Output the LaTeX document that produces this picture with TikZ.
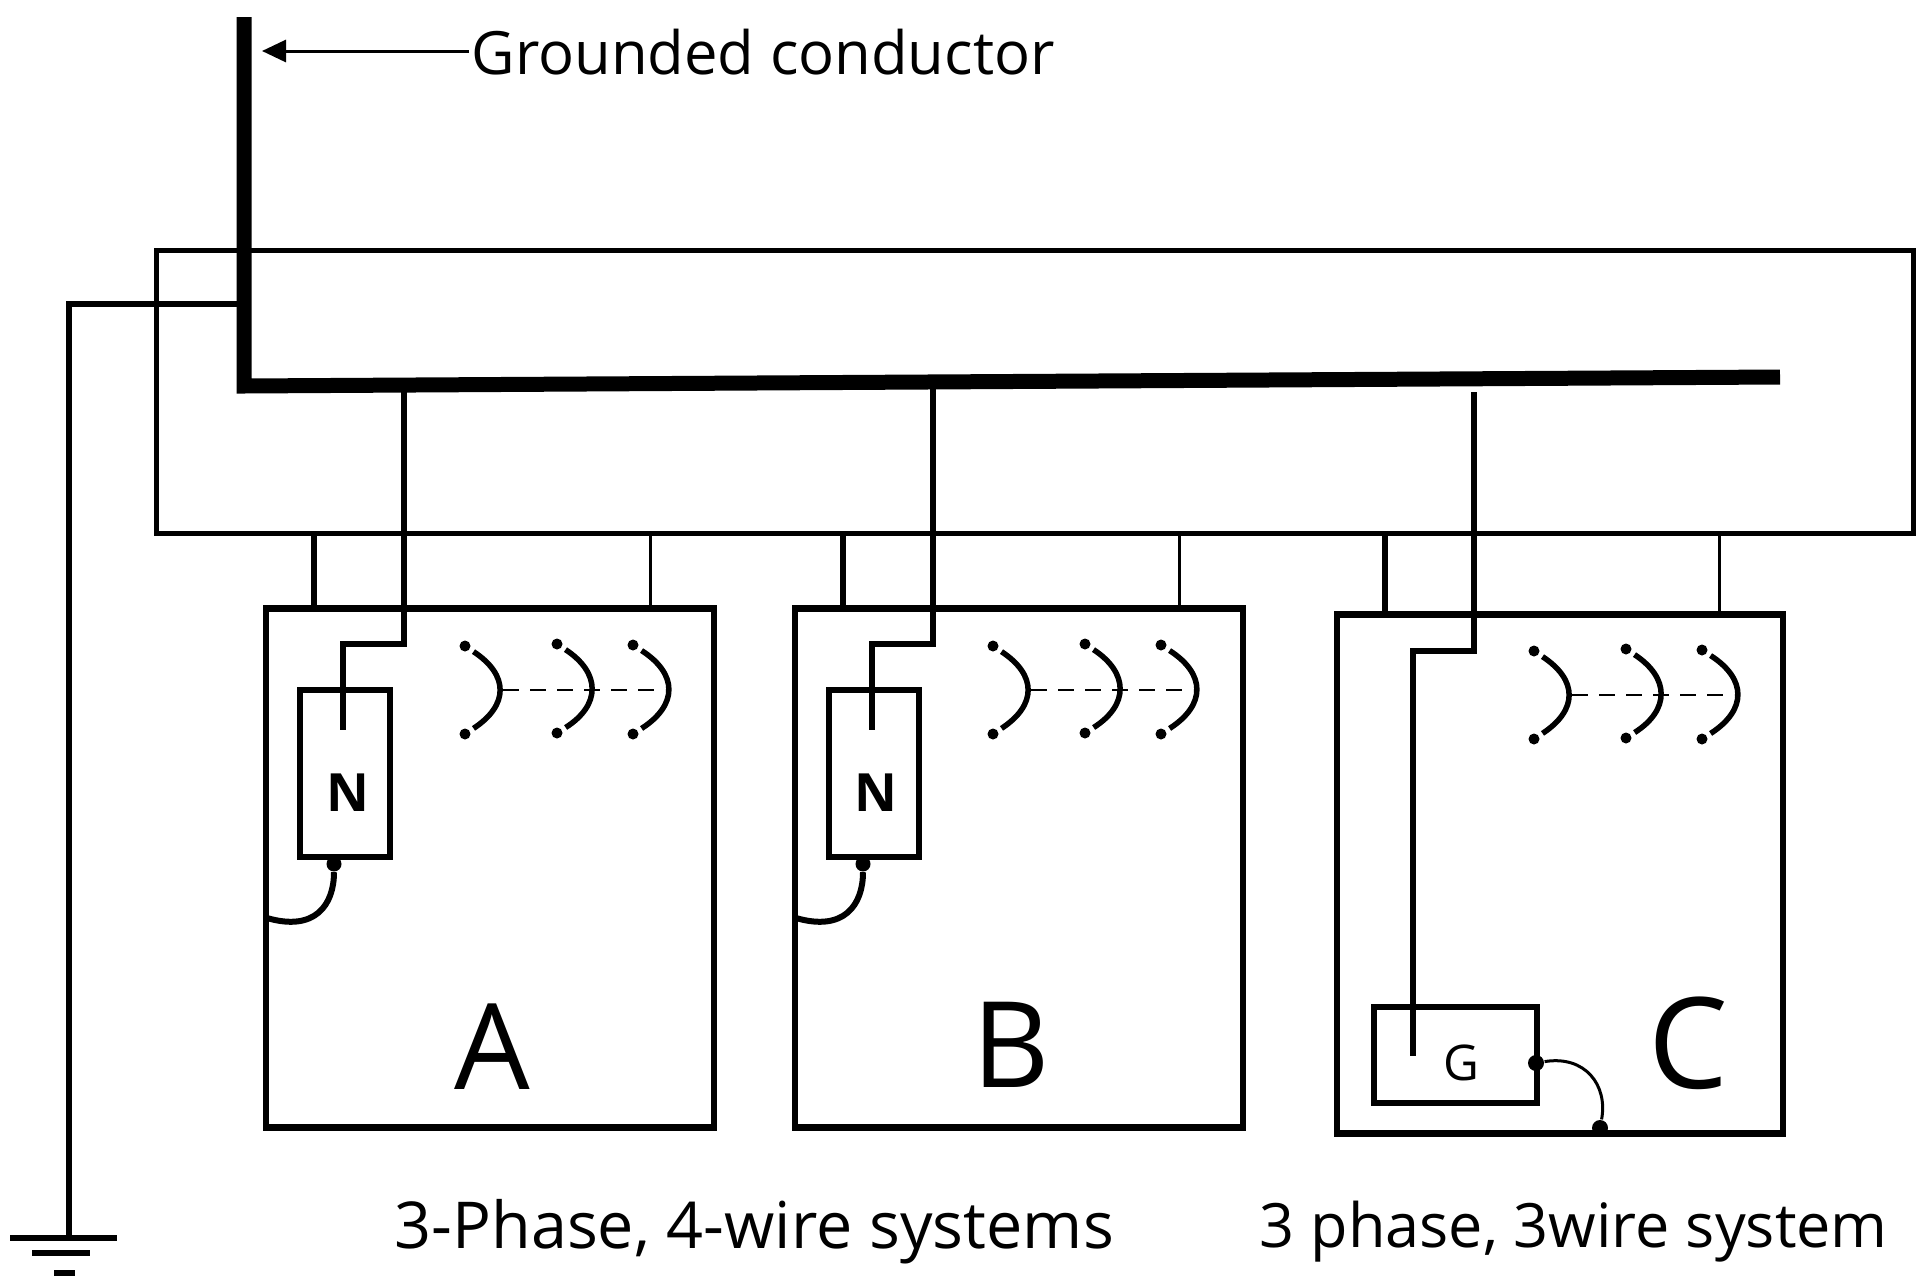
\documentclass[tikz,border=0pt]{standalone}
\usepackage{fontspec}
\setmainfont{Open Sans}
\usetikzlibrary{arrows.meta}

\begin{document}
\begin{tikzpicture}[
		x = 0.1mm,
		y = -0.1mm,
		panel/.style = {
			shape = rectangle,
			draw,
			line width = 0.55mm,
			inner sep = 0,
		},
		dot/.style = {
			shape = circle,
			fill,
			inner sep = 0,
			minimum size = 1.1mm,
		},
		joint/.style = {
			shape = circle,
			fill,
			inner sep = 0,
			minimum size = 1.5mm,
		},
		wire/.style = {line width = 0.6mm},
		thinwire/.style = {line width = 0.3mm},
		blade/.style = {line width = 0.55mm, shorten < = 0.4mm, shorten > = 0.4mm},
		gang/.style = {line width = 0.28mm, dash pattern = on 1.6mm off 1.1mm},
		bigletter/.style = {font = \fontsize{34}{34}\selectfont, inner sep = 0},
		tag/.style = {font = \fontsize{14}{16}\selectfont, inner sep = 0},
	]
	\useasboundingbox (0, 0) rectangle (1920, 1283);

	% enclosures
	\draw (1035, 392) node (bus) [panel, minimum width = 175.7mm, minimum height = 28.3mm] {};
	\draw (490, 868) node (boxA) [panel, line width = 0.65mm, minimum width = 44.8mm, minimum height = 51.9mm] {};
	\draw (1019, 868) node (boxB) [panel, line width = 0.65mm, minimum width = 44.8mm, minimum height = 51.9mm] {};
	\draw (1560, 874) node (boxC) [panel, line width = 0.65mm, minimum width = 44.6mm, minimum height = 51.9mm] {};
	\draw (345, 773) node (neutA) [panel, line width = 0.6mm, minimum width = 9mm, minimum height = 16.7mm] {};
	\draw (874, 773) node (neutB) [panel, line width = 0.6mm, minimum width = 9mm, minimum height = 16.7mm] {};
	\draw (1455, 1055) node (gndbox) [panel, line width = 0.6mm, minimum width = 16.3mm, minimum height = 9.6mm] {};

	% labels
	\draw (492, 1047) node (lblA) [bigletter] {A};
	\draw (1011, 1045) node (lblB) [bigletter] {B};
	\draw (1688, 1043) node (lblC) [bigletter, font = \fontsize{36}{36}\selectfont] {C};
	\draw (348, 793) node (lblNA) [tag, font = \fontsize{15}{16}\bfseries] {N};
	\draw (876, 793) node (lblNB) [tag, font = \fontsize{15}{16}\bfseries] {N};
	\draw (1461, 1063) node (lblG) [tag] {G};
	\draw (471, 52) node (lblcond) [anchor = west, inner sep = 0, font = \fontsize{17}{20}\selectfont] {Grounded conductor};
	\draw (394, 1232) node (lblfour) [anchor = west, inner sep = 0, font = \fontsize{18.4}{20}\selectfont] {3-Phase, 4-wire systems};
	\draw (1259, 1232) node (lblthree) [anchor = west, inner sep = 0, font = \fontsize{17.4}{20}\selectfont] {3 phase, 3wire system};

	% grounded conductor
	\draw (244, 17) coordinate (c1);
	\draw (244, 386) coordinate (c2);
	\draw (1780, 377) coordinate (c3);
	\draw [line width = 1.5mm, miter limit = 10] (c1) -- (c2) -- (c3);
	\draw (469, 51) coordinate (p1);
	\draw (262, 51) coordinate (p2);
	\draw [thinwire, -{Stealth[length = 2.4mm, width = 2.2mm, inset = 0]}] (p1) -- (p2);

	% earth
	\draw (238, 304) coordinate (e1);
	\draw (69, 304) coordinate (e2);
	\draw (69, 1238) coordinate (e3);
	\draw (10, 1238) coordinate (e4);
	\draw (117, 1238) coordinate (e5);
	\draw (32, 1253) coordinate (e6);
	\draw (90, 1253) coordinate (e7);
	\draw (54, 1273) coordinate (e8);
	\draw (75, 1273) coordinate (e9);
	\draw [wire] (e1) -- (e2) -- (e3);
	\draw [line width = 0.65mm] (e4) -- (e5);
	\draw [line width = 0.65mm] (e6) -- (e7);
	\draw [line width = 0.65mm] (e8) -- (e9);

	% feeds to the boxes
	\draw (404, 386) coordinate (wa1);
	\draw (404, 644) coordinate (wa2);
	\draw (343, 644) coordinate (wa3);
	\draw (343, 730) coordinate (wa4);
	\draw [wire] (wa1) -- (wa2) -- (wa3) -- (wa4);
	\draw (933, 386) coordinate (wb1);
	\draw (933, 644) coordinate (wb2);
	\draw (872, 644) coordinate (wb3);
	\draw (872, 730) coordinate (wb4);
	\draw [wire] (wb1) -- (wb2) -- (wb3) -- (wb4);
	\draw (1474, 392) coordinate (wc1);
	\draw (1474, 651) coordinate (wc2);
	\draw (1413, 651) coordinate (wc3);
	\draw (1413, 1056) coordinate (wc4);
	\draw [wire] (wc1) -- (wc2) -- (wc3) -- (wc4);

	\draw [wire] (bus.south -| 314, 0) -- (boxA.north -| 314, 0);
	\draw [thinwire] (bus.south -| 650, 0) -- (boxA.north -| 650, 0);
	\draw [wire] (bus.south -| 843, 0) -- (boxB.north -| 843, 0);
	\draw [thinwire] (bus.south -| 1179, 0) -- (boxB.north -| 1179, 0);
	\draw [wire] (bus.south -| 1385, 0) -- (boxC.north -| 1385, 0);
	\draw [thinwire] (bus.south -| 1719, 0) -- (boxC.north -| 1719, 0);

	% bonding jumpers
	\draw (334, 864) node (ja) [joint] {};
	\draw (267, 918) coordinate (ja2);
	\draw [wire] (ja) .. controls (334, 905) and (315, 932) .. (ja2);
	\draw (863, 864) node (jb) [joint] {};
	\draw (796, 918) coordinate (jb2);
	\draw [wire] (jb) .. controls (863, 905) and (844, 932) .. (jb2);
	\draw (1536, 1063) node (jc) [joint, minimum size = 1.6mm] {};
	\draw (1600, 1128) node (jc2) [joint, minimum size = 1.6mm] {};
	\draw [thinwire] (jc) .. controls (1585, 1055) and (1608, 1085) .. (jc2);

	% breakers in box A
	\draw (465, 646) node (a1t) [dot] {};
	\draw (465, 734) node (a1b) [dot] {};
	\draw (557, 644) node (a2t) [dot] {};
	\draw (557, 733) node (a2b) [dot] {};
	\draw (633, 645) node (a3t) [dot] {};
	\draw (633, 734) node (a3b) [dot] {};
	\draw [blade] (a1t) .. controls (509, 675) and (509, 705) .. (a1b);
	\draw [blade] (a2t) .. controls (601, 673) and (601, 705) .. (a2b);
	\draw [blade] (a3t) .. controls (678, 674) and (678, 705) .. (a3b);
	\draw (503, 690) coordinate (ga1);
	\draw (665, 690) coordinate (ga2);
	\draw [gang] (ga1) -- (ga2);

	% breakers in box B
	\draw (993, 646) node (b1t) [dot] {};
	\draw (993, 734) node (b1b) [dot] {};
	\draw (1085, 644) node (b2t) [dot] {};
	\draw (1085, 733) node (b2b) [dot] {};
	\draw (1161, 645) node (b3t) [dot] {};
	\draw (1161, 734) node (b3b) [dot] {};
	\draw [blade] (b1t) .. controls (1037, 675) and (1037, 705) .. (b1b);
	\draw [blade] (b2t) .. controls (1129, 673) and (1129, 705) .. (b2b);
	\draw [blade] (b3t) .. controls (1206, 674) and (1206, 705) .. (b3b);
	\draw (1031, 690) coordinate (gb1);
	\draw (1193, 690) coordinate (gb2);
	\draw [gang] (gb1) -- (gb2);

	% breakers in box C
	\draw (1534, 651) node (c1t) [dot] {};
	\draw (1534, 739) node (c1b) [dot] {};
	\draw (1626, 649) node (c2t) [dot] {};
	\draw (1626, 738) node (c2b) [dot] {};
	\draw (1702, 650) node (c3t) [dot] {};
	\draw (1702, 739) node (c3b) [dot] {};
	\draw [blade] (c1t) .. controls (1578, 680) and (1578, 710) .. (c1b);
	\draw [blade] (c2t) .. controls (1670, 678) and (1670, 710) .. (c2b);
	\draw [blade] (c3t) .. controls (1747, 679) and (1747, 710) .. (c3b);
	\draw (1572, 695) coordinate (gc1);
	\draw (1734, 695) coordinate (gc2);
	\draw [gang] (gc1) -- (gc2);
\end{tikzpicture}
\end{document}
